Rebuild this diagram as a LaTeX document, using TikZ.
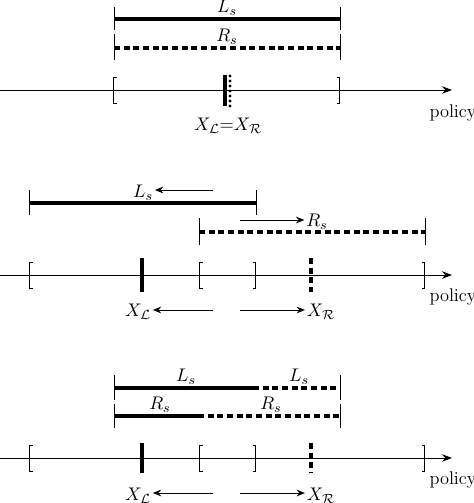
\documentclass[tikz,border=0pt]{standalone}
\usepackage{amsmath}
\usetikzlibrary{arrows.meta,positioning}

\begin{document}
\begin{tikzpicture}[
  x=0.6pt,y=-0.6pt,font=\fontsize{11}{13}\selectfont,
  axis/.style={semithick,-{Stealth[length=6pt,width=4.5pt]}},
  arr/.style={semithick,-{Stealth[length=5pt,width=4pt]}},
  seg/.style={line width=2pt},
  dseg/.style={line width=2pt,dash pattern=on 3.6pt off 2.2pt},
  dotseg/.style={line width=2pt,line cap=round,dash pattern=on 0pt off 3pt},
  lbl/.style={inner sep=1pt}
]
\useasboundingbox (0,0) rectangle (474,503);

% ---- panel 1: X_L = X_R
\coordinate (a1s) at (0,90);
\coordinate (a1e) at (452,90);
\draw[axis] (a1s) -- (a1e);
\node[lbl] (pol1) at (453,113) {policy};
\draw[semithick] (117,77) -| (114,103) -- (117,103);
\draw[semithick] (337,77) -| (340,103) -- (337,103);
\draw[seg] (225,75) -- (225,106);
\draw[dotseg] (230,76) -- (230,106);
\node[lbl] (xlr1) at (228,126) {$X_{\mathcal{L}}{=}X_{\mathcal{R}}$};

\coordinate (l1a) at (114,19);
\coordinate (l1b) at (340,19);
\coordinate (r1a) at (114,48);
\coordinate (r1b) at (340,48);
\draw[seg] (l1a) -- node[lbl,above=0pt] (ls1) {$L_s$} (l1b);
\draw[dseg] (r1a) -- node[lbl,above=0pt] (rs1) {$R_s$} (r1b);
\foreach \x in {114,340} {
  \draw (\x,7) -- (\x,30);
  \draw (\x,34) -- (\x,60);
}

% ---- panel 2: X_L left of X_R
\coordinate (a2s) at (0,275);
\coordinate (a2e) at (452,275);
\draw[axis] (a2s) -- (a2e);
\node[lbl] (pol2) at (453,297) {policy};
\foreach \x in {30,200} \draw[semithick] (\x+3,262) -| (\x,288) -- (\x+3,288);
\foreach \x in {256,425} \draw[semithick] (\x-3,262) -| (\x,288) -- (\x-3,288);
\draw[seg] (142,258) -- (142,292);
\draw[dseg] (311,258) -- (311,292);

\coordinate (l2a) at (29,203);
\coordinate (l2b) at (256,203);
\coordinate (r2a) at (199,232);
\coordinate (r2b) at (425,232);
\draw[seg] (l2a) -- (l2b);
\draw[dseg] (r2a) -- (r2b);
\draw (29,190) -- (29,215);
\draw (256,190) -- (256,215);
\draw (199,218) -- (199,245);
\draw (425,218) -- (425,245);

\node[lbl] (ls2) at (143,193) {$L_s$};
\node[lbl] (rs2) at (317,222) {$R_s$};
\coordinate (ls2t) at (213,190);
\coordinate (rs2t) at (240,220);
\draw[arr] (ls2t) -- (ls2t -| ls2.east);
\draw[arr] (rs2t) -- (rs2t -| rs2.west);

\node[lbl] (xl2) at (138,312) {$X_{\mathcal{L}}$};
\node[lbl] (xr2) at (321,312) {$X_{\mathcal{R}}$};
\coordinate (xl2t) at (213,310);
\coordinate (xr2t) at (240,310);
\draw[arr] (xl2t) -- (xl2t -| xl2.east);
\draw[arr] (xr2t) -- (xr2t -| xr2.west);

% ---- panel 3: shared segments
\coordinate (a3s) at (0,458);
\coordinate (a3e) at (452,458);
\draw[axis] (a3s) -- (a3e);
\node[lbl] (pol3) at (453,480) {policy};
\foreach \x in {30,200} \draw[semithick] (\x+3,445) -| (\x,471) -- (\x+3,471);
\foreach \x in {256,425} \draw[semithick] (\x-3,445) -| (\x,471) -- (\x-3,471);
\draw[seg] (142,443) -- (142,473);
\draw[dseg] (311,443) -- (311,473);

\coordinate (l3a) at (114,388);
\coordinate (l3m) at (253,388);
\coordinate (l3b) at (340,388);
\coordinate (r3a) at (114,416);
\coordinate (r3m) at (198,416);
\coordinate (r3b) at (340,416);
\draw[seg] (l3a) -- (l3m);
\draw[dseg] (l3m) -- (l3b);
\draw[seg] (r3a) -- (r3m);
\draw[dseg] (r3m) -- (r3b);
\foreach \x in {114,340} {
  \draw (\x,375) -- (\x,400);
  \draw (\x,404) -- (\x,428);
}
\node[lbl] (ls3a) at (186,377) {$L_s$};
\node[lbl] (ls3b) at (299,377) {$L_s$};
\node[lbl] (rs3a) at (160,405) {$R_s$};
\node[lbl] (rs3b) at (271,405) {$R_s$};

\node[lbl] (xl3) at (138,496) {$X_{\mathcal{L}}$};
\node[lbl] (xr3) at (321,496) {$X_{\mathcal{R}}$};
\coordinate (xl3t) at (213,493);
\coordinate (xr3t) at (240,493);
\draw[arr] (xl3t) -- (xl3t -| xl3.east);
\draw[arr] (xr3t) -- (xr3t -| xr3.west);
\end{tikzpicture}
\end{document}
